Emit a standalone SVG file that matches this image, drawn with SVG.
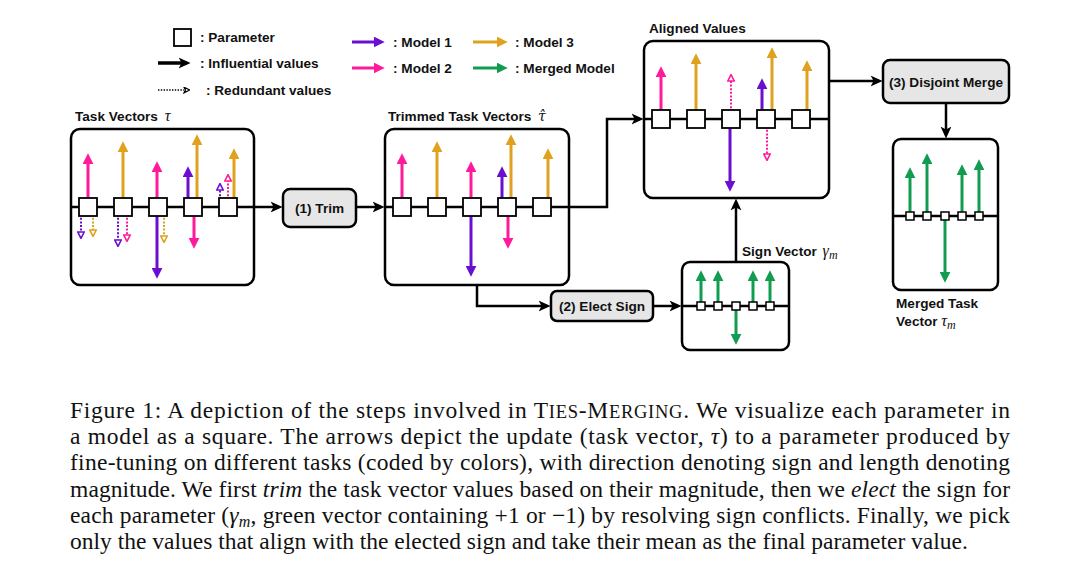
<svg xmlns="http://www.w3.org/2000/svg" width="1080" height="575" viewBox="0 0 1080 575">
<style>
  .lbl{font-family:"Liberation Sans",Arial,sans-serif;font-weight:bold;font-size:13.6px;fill:#111}
  .math{font-family:"Liberation Serif","Times New Roman",serif;font-style:italic;font-weight:normal}
  .hat{font-family:"DejaVu Serif",serif;font-style:italic;font-weight:normal}
  .cap{font-family:"Liberation Serif","Times New Roman",serif;font-size:23.5px;fill:#111}
  .box{fill:#fff;stroke:#000;stroke-width:2.5}
  .proc{fill:#e6e6e6;stroke:#000;stroke-width:2.5}
  .sq{fill:#fff;stroke:#000;stroke-width:1.8}
  .ssq{fill:#fff;stroke:#000;stroke-width:1.5}
  .conn{fill:none;stroke:#000;stroke-width:2.5}
  .p{fill:none;stroke:#6a0fd0;stroke-width:3}
  .k{fill:none;stroke:#ff1a9c;stroke-width:3}
  .o{fill:none;stroke:#e0a11e;stroke-width:3}
  .g{fill:none;stroke:#119c50;stroke-width:3}
  .dp{fill:none;stroke:#6a0fd0;stroke-width:2;stroke-dasharray:2 1.6}
  .dk{fill:none;stroke:#ff1a9c;stroke-width:2;stroke-dasharray:2 1.6}
  .do{fill:none;stroke:#e0a11e;stroke-width:2;stroke-dasharray:2 1.6}
</style>
<defs>
  <marker id="hB" viewBox="0 0 10 10" markerWidth="12" markerHeight="12" refX="7" refY="5" orient="auto" markerUnits="userSpaceOnUse"><path d="M0,0.5 L10,5 L0,9.5 L2.5,5 z" fill="#000"/></marker>
  <marker id="hP" viewBox="0 0 10 10" markerWidth="11" markerHeight="11" refX="3" refY="5" orient="auto" markerUnits="userSpaceOnUse"><path d="M0,0 L10,5 L0,10 z" fill="#6a0fd0"/></marker>
  <marker id="hK" viewBox="0 0 10 10" markerWidth="11" markerHeight="11" refX="3" refY="5" orient="auto" markerUnits="userSpaceOnUse"><path d="M0,0 L10,5 L0,10 z" fill="#ff1a9c"/></marker>
  <marker id="hO" viewBox="0 0 10 10" markerWidth="11" markerHeight="11" refX="3" refY="5" orient="auto" markerUnits="userSpaceOnUse"><path d="M0,0 L10,5 L0,10 z" fill="#e0a11e"/></marker>
  <marker id="hG" viewBox="0 0 10 10" markerWidth="11" markerHeight="11" refX="3" refY="5" orient="auto" markerUnits="userSpaceOnUse"><path d="M0,0 L10,5 L0,10 z" fill="#119c50"/></marker>
  <marker id="dP" viewBox="0 0 10 10" markerWidth="8" markerHeight="8" refX="1" refY="5" orient="auto" markerUnits="userSpaceOnUse"><path d="M1,1 L9,5 L1,9 z" fill="#fff" stroke="#6a0fd0" stroke-width="2"/></marker>
  <marker id="dK" viewBox="0 0 10 10" markerWidth="8" markerHeight="8" refX="1" refY="5" orient="auto" markerUnits="userSpaceOnUse"><path d="M1,1 L9,5 L1,9 z" fill="#fff" stroke="#ff1a9c" stroke-width="2"/></marker>
  <marker id="dO" viewBox="0 0 10 10" markerWidth="8" markerHeight="8" refX="1" refY="5" orient="auto" markerUnits="userSpaceOnUse"><path d="M1,1 L9,5 L1,9 z" fill="#fff" stroke="#e0a11e" stroke-width="2"/></marker>
  <marker id="dB" viewBox="0 0 10 10" markerWidth="7" markerHeight="7" refX="1" refY="5" orient="auto" markerUnits="userSpaceOnUse"><path d="M1,1 L9,5 L1,9 L3,5 z" fill="#fff" stroke="#000" stroke-width="1.8"/></marker>
</defs>
<rect width="1080" height="575" fill="#fff"/>

<g id="legend">
  <rect class="sq" x="174" y="29" width="17" height="17"/>
  <text class="lbl" x="200" y="42">: Parameter</text>
  <path d="M158,63 H187" stroke="#000" stroke-width="3.5" fill="none" marker-end="url(#hB)"/>
  <text class="lbl" x="200" y="68">: Influential values</text>
  <path d="M158,90 H184" stroke="#000" stroke-width="1.4" stroke-dasharray="1.4 1.4" fill="none" marker-end="url(#dB)"/>
  <text class="lbl" x="206" y="95">: Redundant values</text>
  <path class="p" d="M352,42 H377" stroke-width="4" marker-end="url(#hP)"/>
  <text class="lbl" x="393" y="47">: Model 1</text>
  <path class="k" d="M352,68 H377" stroke-width="4" marker-end="url(#hK)"/>
  <text class="lbl" x="393" y="73">: Model 2</text>
  <path class="o" d="M473,42 H500" stroke-width="4" marker-end="url(#hO)"/>
  <text class="lbl" x="515" y="47">: Model 3</text>
  <path class="g" d="M473,68 H500" stroke-width="4" marker-end="url(#hG)"/>
  <text class="lbl" x="515" y="73">: Merged Model</text>
</g>

<g id="task-vectors">
  <text class="lbl" x="75" y="121">Task Vectors <tspan class="math" dx="3" font-size="16">τ</tspan></text>
  <rect class="box" x="71" y="129" width="183" height="156" rx="9"/>
  <path class="k" d="M88,207 V161" marker-end="url(#hK)"/>
  <path class="dp" d="M81,207 V232" marker-end="url(#dP)"/>
  <path class="do" d="M93,207 V230" marker-end="url(#dO)"/>
  <path class="o" d="M123,207 V149" marker-end="url(#hO)"/>
  <path class="dp" d="M118,207 V240" marker-end="url(#dP)"/>
  <path class="dk" d="M127,207 V235" marker-end="url(#dK)"/>
  <path class="k" d="M157,207 V169" marker-end="url(#hK)"/>
  <path class="p" d="M157,207 V271" marker-end="url(#hP)"/>
  <path class="do" d="M164,207 V236" marker-end="url(#dO)"/>
  <path class="p" d="M188,207 V174" marker-end="url(#hP)"/>
  <path class="o" d="M197,207 V142" marker-end="url(#hO)"/>
  <path class="k" d="M194,207 V241" marker-end="url(#hK)"/>
  <path class="dp" d="M220,207 V190" marker-end="url(#dP)"/>
  <path class="dk" d="M228,207 V181" marker-end="url(#dK)"/>
  <path class="o" d="M234,207 V156" marker-end="url(#hO)"/>
</g>

<g id="trim">
  <rect class="proc" x="283" y="189" width="73" height="38" rx="7"/>
  <text class="lbl" x="319.5" y="213" text-anchor="middle">(1) Trim</text>
</g>

<g id="trimmed-task-vectors">
  <text class="lbl" x="388" y="121">Trimmed Task Vectors <tspan class="hat" dx="3" font-size="14">τ̂</tspan></text>
  <rect class="box" x="385" y="129" width="184" height="156" rx="9"/>
  <path class="k" d="M402,207 V161" marker-end="url(#hK)"/>
  <path class="o" d="M437,207 V149" marker-end="url(#hO)"/>
  <path class="k" d="M471,207 V169" marker-end="url(#hK)"/>
  <path class="p" d="M471,207 V269" marker-end="url(#hP)"/>
  <path class="p" d="M502,207 V174" marker-end="url(#hP)"/>
  <path class="o" d="M511,207 V142" marker-end="url(#hO)"/>
  <path class="k" d="M508,207 V241" marker-end="url(#hK)"/>
  <path class="o" d="M548,207 V156" marker-end="url(#hO)"/>
</g>

<g id="aligned-values">
  <text class="lbl" x="649" y="33">Aligned Values</text>
  <rect class="box" x="644" y="41" width="185" height="157" rx="9"/>
  <path class="k" d="M661,119 V74" marker-end="url(#hK)"/>
  <path class="o" d="M696,119 V61" marker-end="url(#hO)"/>
  <path class="dk" d="M731,119 V81" marker-end="url(#dK)"/>
  <path class="p" d="M730,119 V184" marker-end="url(#hP)"/>
  <path class="p" d="M762,119 V86" marker-end="url(#hP)"/>
  <path class="o" d="M772,119 V55" marker-end="url(#hO)"/>
  <path class="dk" d="M767,119 V154" marker-end="url(#dK)"/>
  <path class="o" d="M807,119 V68" marker-end="url(#hO)"/>
</g>

<g id="elect-sign">
  <rect class="proc" x="551" y="291" width="102" height="30" rx="6"/>
  <text class="lbl" x="602" y="311" text-anchor="middle">(2) Elect Sign</text>
</g>

<g id="sign-vector">
  <text class="lbl" x="742" y="256">Sign Vector <tspan class="math" dx="2" font-size="16">γ</tspan><tspan class="math" font-size="12" dy="3">m</tspan></text>
  <rect class="box" x="682" y="262" width="107" height="88" rx="8"/>
  <path class="g" d="M701,306 V278" marker-end="url(#hG)"/>
  <path class="g" d="M718,306 V278" marker-end="url(#hG)"/>
  <path class="g" d="M753,306 V278" marker-end="url(#hG)"/>
  <path class="g" d="M770,306 V278" marker-end="url(#hG)"/>
  <path class="g" d="M736,306 V337" marker-end="url(#hG)"/>
</g>

<g id="disjoint-merge">
  <rect class="proc" x="883" y="60" width="126" height="43" rx="7"/>
  <text class="lbl" x="946" y="87" text-anchor="middle">(3) Disjoint Merge</text>
</g>

<g id="merged-task-vector">
  <rect class="box" x="893" y="139" width="105" height="151" rx="8"/>
  <path class="g" d="M910,216 V175" marker-end="url(#hG)"/>
  <path class="g" d="M927,216 V161" marker-end="url(#hG)"/>
  <path class="g" d="M962,216 V172" marker-end="url(#hG)"/>
  <path class="g" d="M979,216 V167" marker-end="url(#hG)"/>
  <path class="g" d="M945,216 V275" marker-end="url(#hG)"/>
  <text class="lbl" x="896" y="308">Merged Task</text>
  <text class="lbl" x="896" y="326">Vector <tspan class="math" font-size="16">τ</tspan><tspan class="math" font-size="12" dy="3">m</tspan></text>
</g>

<g id="connectors">
  <path class="conn" d="M71,207 H279" marker-end="url(#hB)"/>
  <path class="conn" d="M356,207 H381" marker-end="url(#hB)"/>
  <path class="conn" d="M385,207 H607 V119 H640" marker-end="url(#hB)"/>
  <path class="conn" d="M644,119 H829"/>
  <path class="conn" d="M829,81 H879" marker-end="url(#hB)"/>
  <path class="conn" d="M946,103 V135" marker-end="url(#hB)"/>
  <path class="conn" d="M893,216 H998"/>
  <path class="conn" d="M477,285 V306 H547" marker-end="url(#hB)"/>
  <path class="conn" d="M653,306 H678" marker-end="url(#hB)"/>
  <path class="conn" d="M682,306 H789"/>
  <path class="conn" d="M736,262 V202" marker-end="url(#hB)"/>
</g>

<g id="squares">
  <rect class="sq" x="79" y="198" width="18" height="18"/>
  <rect class="sq" x="114" y="198" width="18" height="18"/>
  <rect class="sq" x="149" y="198" width="18" height="18"/>
  <rect class="sq" x="184" y="198" width="18" height="18"/>
  <rect class="sq" x="219" y="198" width="18" height="18"/>
  <rect class="sq" x="393" y="198" width="18" height="18"/>
  <rect class="sq" x="428" y="198" width="18" height="18"/>
  <rect class="sq" x="463" y="198" width="18" height="18"/>
  <rect class="sq" x="498" y="198" width="18" height="18"/>
  <rect class="sq" x="533" y="198" width="18" height="18"/>
  <rect class="sq" x="652" y="110" width="18" height="18"/>
  <rect class="sq" x="687" y="110" width="18" height="18"/>
  <rect class="sq" x="722" y="110" width="18" height="18"/>
  <rect class="sq" x="757" y="110" width="18" height="18"/>
  <rect class="sq" x="792" y="110" width="18" height="18"/>
  <rect class="ssq" x="697" y="302" width="8" height="8"/>
  <rect class="ssq" x="714" y="302" width="8" height="8"/>
  <rect class="ssq" x="732" y="302" width="8" height="8"/>
  <rect class="ssq" x="749" y="302" width="8" height="8"/>
  <rect class="ssq" x="766" y="302" width="8" height="8"/>
  <rect class="ssq" x="906" y="212" width="8" height="8"/>
  <rect class="ssq" x="923" y="212" width="8" height="8"/>
  <rect class="ssq" x="941" y="212" width="8" height="8"/>
  <rect class="ssq" x="958" y="212" width="8" height="8"/>
  <rect class="ssq" x="975" y="212" width="8" height="8"/>
</g>

<g id="caption">
  <text class="cap" x="70" y="418" textLength="940" lengthAdjust="spacing">Figure 1:  A depiction of the steps involved in T<tspan font-size="18.5">IES</tspan>-M<tspan font-size="18.5">ERGING</tspan>. We visualize each parameter in</text>
  <text class="cap" x="70" y="444" textLength="940" lengthAdjust="spacing">a model as a square.  The arrows depict the update (task vector, <tspan font-style="italic">τ</tspan>) to a parameter produced by</text>
  <text class="cap" x="70" y="470" textLength="940" lengthAdjust="spacing">fine-tuning on different tasks (coded by colors), with direction denoting sign and length denoting</text>
  <text class="cap" x="70" y="497" textLength="940" lengthAdjust="spacing">magnitude. We first <tspan font-style="italic">trim</tspan> the task vector values based on their magnitude, then we <tspan font-style="italic">elect</tspan> the sign for</text>
  <text class="cap" x="70" y="523" textLength="940" lengthAdjust="spacing">each parameter (<tspan font-style="italic">γ</tspan><tspan font-style="italic" font-size="16" dy="4">m</tspan><tspan dy="-4">, green vector containing +1 or −1) by resolving sign conflicts. Finally, we pick</tspan></text>
  <text class="cap" x="70" y="549">only the values that align with the elected sign and take their mean as the final parameter value.</text>
</g>
</svg>
